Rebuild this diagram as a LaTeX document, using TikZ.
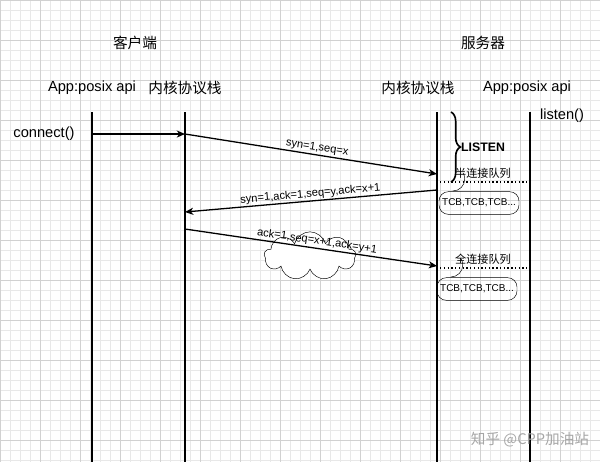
\documentclass[tikz,border=0pt]{standalone}
\usepackage{fontspec}
\setmainfont{Liberation Sans}
\newfontfamily\cjk{Noto Sans CJK SC}
\usetikzlibrary{decorations.pathreplacing, shapes.symbols, arrows.meta, calc, positioning}

\begin{document}
\begin{tikzpicture}[x=0.03cm, y=-0.03cm,
    life/.style={line width=2pt},
    msg/.style={line width=1.1pt, -{Stealth[length=7pt, width=6pt, inset=2pt]}},
    lbl/.style={font=\fontsize{9.5}{10}\selectfont, inner sep=1pt},
    head/.style={font=\fontsize{12.5}{13}\selectfont},
    queue/.style={draw, rounded corners=8pt, minimum width=2.4cm, minimum height=0.68cm,
                  font=\fontsize{8.5}{9}\selectfont, inner sep=0pt}]
    \useasboundingbox (0,0) rectangle (600,462);
    % grid background
    \foreach \gx in {0,10,...,600} \draw[black!9, line width=0.3pt] (\gx,0) -- (\gx,462);
    \foreach \gy in {0,10,...,460} \draw[black!9, line width=0.3pt] (0,\gy) -- (600,\gy);
    \foreach \gx in {0,40,...,600} \draw[black!18, line width=0.4pt] (\gx,0) -- (\gx,462);
    \foreach \gy in {0,40,...,460} \draw[black!18, line width=0.4pt] (0,\gy) -- (600,\gy);

    % titles
    \node (client) at (135,43) [head] {\cjk 客户端};
    \node (server) at (483,43) [head] {\cjk 服务器};
    \node (capp) at (92,88) [head] {App:posix api};
    \node (cstack) at (185,88) [head] {\cjk 内核协议栈};
    \node (sstack) at (418,88) [head] {\cjk 内核协议栈};
    \node (sapp) at (527,88) [head] {App:posix api};
    \node (listen) at (562,116) [head] {listen()};
    \node (connect) at (44,134) [head] {connect()};

    % lifelines
    \coordinate (c1t) at (92,112);  \coordinate (c1b) at (92,462);
    \coordinate (c2t) at (185,112); \coordinate (c2b) at (185,462);
    \coordinate (s1t) at (437,112); \coordinate (s1b) at (437,462);
    \coordinate (s2t) at (530,112); \coordinate (s2b) at (530,462);
    \draw[life] (c1t) -- (c1b);
    \draw[life] (c2t) -- (c2b);
    \draw[life] (s1t) -- (s1b);
    \draw[life] (s2t) -- (s2b);

    % handshake
    \coordinate (a0) at (92,134);  \coordinate (a1) at (185,134);
    \coordinate (b0) at (185,134); \coordinate (b1) at (437,174);
    \coordinate (d0) at (437,190); \coordinate (d1) at (185,212);
    \coordinate (e0) at (185,229); \coordinate (e1) at (437,266);
    \node (cloud) at (310,256) [cloud, draw, cloud puffs=9, aspect=2,
        minimum width=2.75cm, minimum height=1.45cm, fill=white] {};
    \draw[msg] (a0) -- (a1);
    \draw[msg] (b0) -- (b1) node[lbl, pos=0.52, above, sloped] {syn=1,seq=x};
    \draw[msg] (d0) -- (d1) node[lbl, pos=0.5, above, sloped] {syn=1,ack=1,seq=y,ack=x+1};
    \draw[msg] (e0) -- (e1) node[lbl, pos=0.52, above, sloped] {ack=1,seq=x+1,ack=y+1};

    % server queues
    \coordinate (br0) at (451,112); \coordinate (br1) at (451,182);
    \draw[line width=1.4pt, decorate, decoration={brace, amplitude=8pt}] (br0) -- (br1)
        node[midway, right=8pt, font=\bfseries\fontsize{10.5}{11}\selectfont, inner sep=0pt] {LISTEN};
    \coordinate (h0) at (440,182); \coordinate (h1) at (527,182);
    \draw[dotted, line width=1.2pt] (h0) -- (h1);
    \node (half) at (483,173) [lbl] {\cjk 半连接队列};
    \node (q1) at (479,203) [queue] {TCB,TCB,TCB...};
    \draw (q1.west) ++(14,-12) arc[start angle=90, end angle=-30, radius=12];
    \coordinate (f0) at (440,268); \coordinate (f1) at (527,268);
    \draw[dotted, line width=1.2pt] (f0) -- (f1);
    \node (full) at (483,259) [lbl] {\cjk 全连接队列};
    \node (q2) at (477,289) [queue] {TCB,TCB,TCB...};
    \draw (q2.west) ++(14,-12) arc[start angle=90, end angle=-30, radius=12];

    \node (mark) at (530,440) [head, black!35] {\cjk 知乎 @CPP加油站};
\end{tikzpicture}
\end{document}
